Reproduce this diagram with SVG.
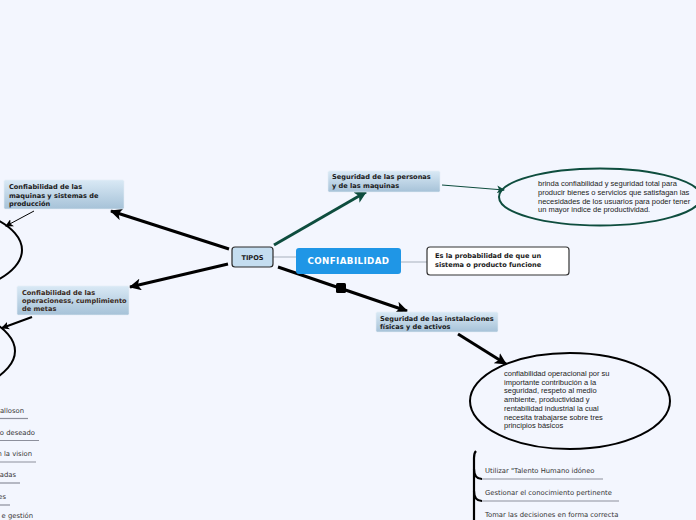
<svg xmlns="http://www.w3.org/2000/svg" width="696" height="520" viewBox="0 0 696 520">
<defs>
<linearGradient id="sub" x1="0" y1="0" x2="0" y2="1">
<stop offset="0" stop-color="#d9e9f5"/>
<stop offset="1" stop-color="#a6c2d8"/>
</linearGradient>
<marker id="ab" markerUnits="userSpaceOnUse" markerWidth="12" markerHeight="12" viewBox="0 0 12 12" refX="11" refY="6" orient="auto">
<path d="M0,0 L12,6 L0,12 L3,6 Z" fill="#000"/>
</marker>
<marker id="ag" markerUnits="userSpaceOnUse" markerWidth="12" markerHeight="12" viewBox="0 0 12 12" refX="11" refY="6" orient="auto">
<path d="M0,0 L12,6 L0,12 L3,6 Z" fill="#0e4d3e"/>
</marker>
<marker id="asb" markerUnits="userSpaceOnUse" markerWidth="8" markerHeight="8" viewBox="0 0 8 8" refX="7" refY="4" orient="auto">
<path d="M0,0 L8,4 L0,8 L2,4 Z" fill="#000"/>
</marker>
<marker id="asg" markerUnits="userSpaceOnUse" markerWidth="8" markerHeight="8" viewBox="0 0 8 8" refX="7" refY="4" orient="auto">
<path d="M0,0 L8,4 L0,8 L2,4 Z" fill="#0e4d3e"/>
</marker>
</defs>
<style>
.sub{fill:url(#sub);stroke:#e6eef6;stroke-width:0.6}
.bt{font-family:"DejaVu Sans",Verdana,sans-serif;font-weight:bold;font-size:6.6px;fill:#1a1a1a}
.et{font-family:"Liberation Sans",Arial,sans-serif;font-size:7.5px;fill:#222}
.it{font-family:"DejaVu Sans",Verdana,sans-serif;font-size:6.8px;fill:#333}
.ul{stroke:#8d909c;stroke-width:1.2;fill:none}
.br{stroke:#000;stroke-width:2.2;fill:none}
.thick{stroke:#000;stroke-width:3;fill:none}
.ell{fill:none;stroke:#000;stroke-width:2}
</style>
<rect width="696" height="520" fill="#f3f6fe"/>

<g id="connectors">
<line x1="273" y1="257" x2="296" y2="257" stroke="#b4bcc6" stroke-width="1.2"/>
<line x1="401" y1="262" x2="427" y2="262" stroke="#b4bcc6" stroke-width="1.2"/>
<line x1="229" y1="249" x2="111" y2="211" class="thick" marker-end="url(#ab)"/>
<line x1="228" y1="264" x2="130" y2="287" class="thick" marker-end="url(#ab)"/>
<line x1="274" y1="245" x2="366" y2="192" stroke="#0e4d3e" stroke-width="3" marker-end="url(#ag)"/>
<line x1="278" y1="267" x2="407" y2="311" class="thick" marker-end="url(#ab)"/>
<rect x="336" y="283" width="10" height="10" rx="1.5" fill="#000"/>
<line x1="442" y1="185" x2="504" y2="190" stroke="#0e4d3e" stroke-width="1.2" marker-end="url(#asg)"/>
<line x1="458" y1="334" x2="506" y2="364" class="thick" marker-end="url(#ab)"/>
<line x1="34" y1="211" x2="6" y2="226" stroke="#000" stroke-width="1" marker-end="url(#asb)"/>
<line x1="32" y1="317" x2="2" y2="328" stroke="#000" stroke-width="2.2" marker-end="url(#asb)"/>
<path class="br" d="M476,451 Q474,453 474,458 L474,520"/>
<path class="br" d="M474,469 Q474,479 482,479"/>
<path class="br" d="M474,491 Q474,501 482,501"/>
</g>

<g id="node-confiabilidad">
<rect x="296" y="248" width="105" height="26" rx="3" fill="#1f96e6"/>
<text x="348.5" y="264" text-anchor="middle" font-family="DejaVu Sans,Verdana,sans-serif" font-weight="bold" font-size="8.7" fill="#fff" letter-spacing="0.4">CONFIABILIDAD</text>
</g>

<g id="node-tipos">
<rect x="232" y="247" width="41" height="20" rx="3" fill="#c4ddf0" stroke="#2a2a2a" stroke-width="1.2"/>
<text x="252.5" y="260" text-anchor="middle" class="bt">TIPOS</text>
</g>

<g id="node-definicion">
<rect x="427" y="247" width="142" height="28" rx="3" fill="#fff" stroke="#333" stroke-width="1.2"/>
<text class="bt"><tspan x="435" y="258">Es la probabilidad de que un</tspan><tspan x="435" y="267">sistema o producto funcione</tspan></text>
</g>

<g id="node-maquinas">
<rect x="4" y="180" width="120" height="29" rx="1.5" class="sub"/>
<text class="bt"><tspan x="9" y="189">Confiabilidad de las</tspan><tspan x="9" y="197.5">maquinas y sistemas de</tspan><tspan x="9" y="205.5">producción</tspan></text>
</g>

<g id="node-operaciones">
<rect x="17" y="286" width="112" height="29" rx="1.5" class="sub"/>
<text class="bt" style="fill:#3a2a22"><tspan x="22" y="295">Confiabilidad de las</tspan><tspan x="22" y="303">operacioness, cumplimiento</tspan><tspan x="22" y="311">de metas</tspan></text>
</g>

<g id="node-personas">
<rect x="328" y="171" width="112" height="21" rx="1.5" class="sub"/>
<text class="bt"><tspan x="332" y="179">Seguridad de las personas</tspan><tspan x="332" y="187.5">y de las maquinas</tspan></text>
</g>

<g id="node-instalaciones">
<rect x="376" y="312" width="122" height="20" rx="1.5" class="sub"/>
<text class="bt"><tspan x="380" y="321">Seguridad de las instalaciones</tspan><tspan x="380" y="329">físicas y de activos</tspan></text>
</g>

<g id="node-ellipse-personas">
<ellipse cx="600" cy="197" rx="101" ry="28.5" fill="none" stroke="#0e4d3e" stroke-width="2"/>
<text class="et"><tspan x="538" y="186">brinda confiabilidad y seguridad total para</tspan><tspan x="538" y="195">producir bienes o servicios que satisfagan las</tspan><tspan x="538" y="203.5">necesidades de los usuarios para poder tener</tspan><tspan x="538" y="212">un mayor indice de productividad.</tspan></text>
</g>

<g id="node-ellipse-instalaciones">
<ellipse cx="570" cy="401" rx="100" ry="48" class="ell"/>
<text class="et"><tspan x="504" y="376">confiabilidad operacional por su</tspan><tspan x="504" y="384.7">importante contribución a la</tspan><tspan x="504" y="393.4">seguridad, respeto al medio</tspan><tspan x="504" y="402.1">ambiente, productividad y</tspan><tspan x="504" y="410.8">rentabilidad industrial  la cual</tspan><tspan x="504" y="419.5">necesita trabajarse sobre tres</tspan><tspan x="504" y="428.2">principios básicos</tspan></text>
</g>

<g id="node-ellipse-maquinas">
<ellipse cx="-79" cy="250" rx="101" ry="46" class="ell"/>
</g>

<g id="node-ellipse-operaciones">
<ellipse cx="-86" cy="351" rx="101" ry="46" class="ell"/>
</g>

<g id="node-principios">
<text x="485" y="473" class="it">Utilizar "Talento Humano idóneo</text>
<line x1="482" y1="479" x2="603" y2="479" class="ul"/>
<text x="485" y="495" class="it">Gestionar el conocimiento pertinente</text>
<line x1="482" y1="501" x2="619" y2="501" class="ul"/>
<text x="485" y="517" class="it">Tomar las decisiones en forma correcta</text>
</g>

<g id="node-left-items">
<text x="24" y="413" text-anchor="end" class="it">alloson</text>
<line x1="0" y1="418.5" x2="28" y2="418.5" class="ul"/>
<text x="35" y="435" text-anchor="end" class="it">o deseado</text>
<line x1="0" y1="440.5" x2="39" y2="440.5" class="ul"/>
<text x="32" y="456" text-anchor="end" class="it">n la vision</text>
<line x1="0" y1="462" x2="36" y2="462" class="ul"/>
<text x="16" y="477" text-anchor="end" class="it">adas</text>
<line x1="0" y1="483" x2="20" y2="483" class="ul"/>
<text x="6" y="499" text-anchor="end" class="it">es</text>
<line x1="0" y1="505" x2="10" y2="505" class="ul"/>
<text x="33" y="517.5" text-anchor="end" class="it">e gestión</text>
</g>
</svg>
